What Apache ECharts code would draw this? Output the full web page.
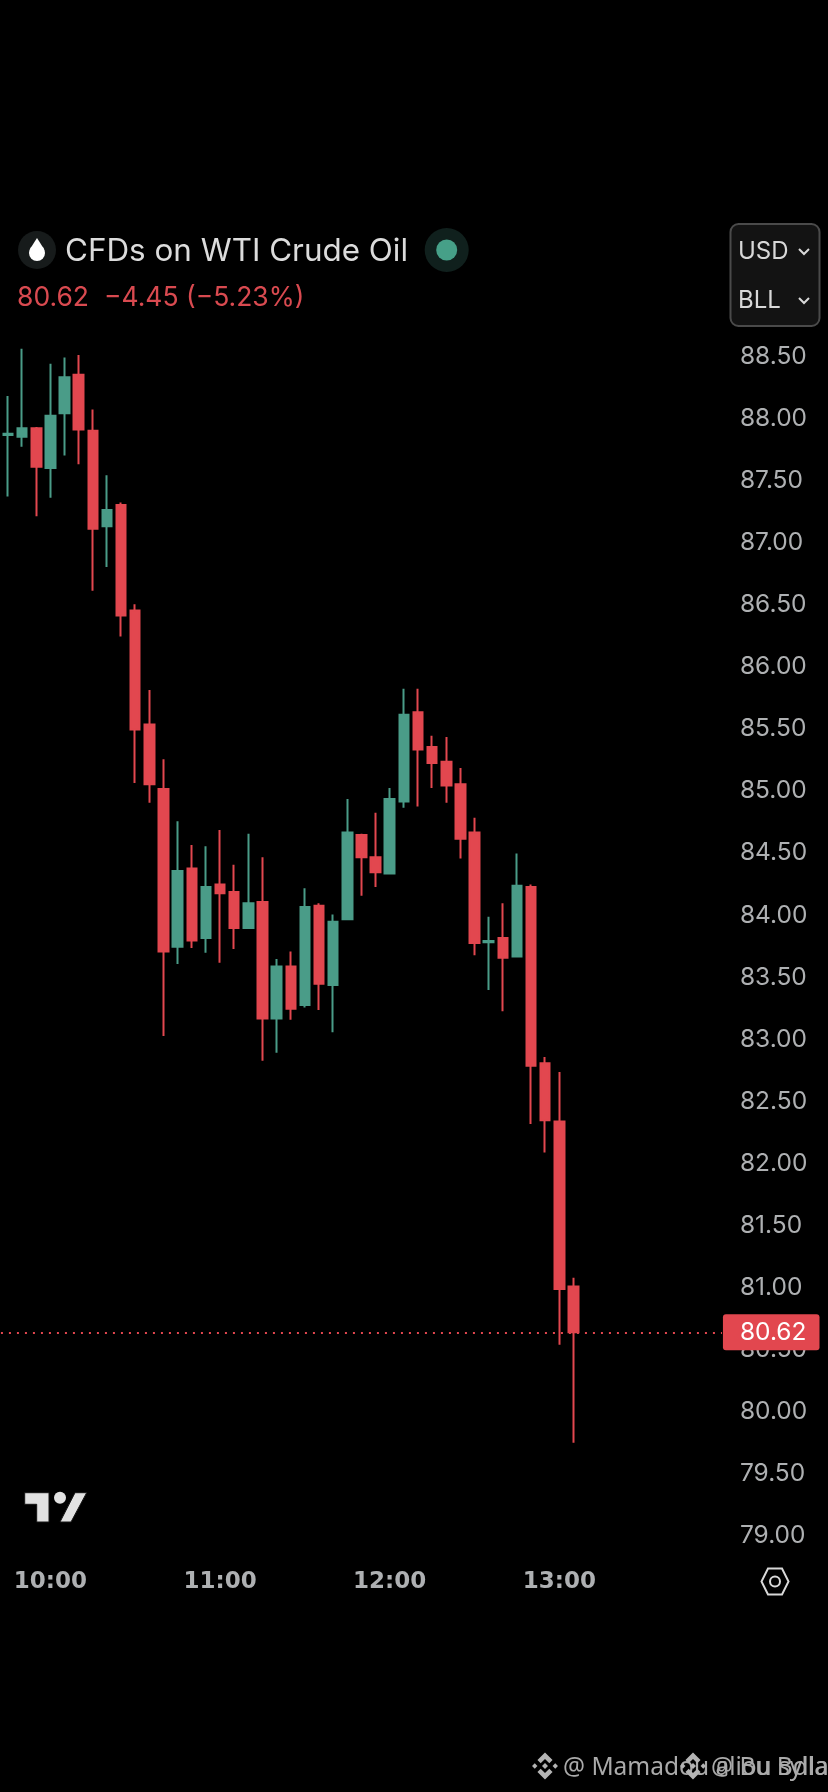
<!DOCTYPE html>
<html><head><meta charset="utf-8">
<style>html,body{margin:0;padding:0;background:#000}#c{width:828px;height:1792px}</style>
<script src="https://cdn.jsdelivr.net/npm/echarts@6/dist/echarts.min.js"></script>
</head><body><div id="c"></div>
<script>
const categories = ["09:45","09:50","09:55","10:00","10:05","10:10","10:15","10:20","10:25","10:30","10:35","10:40","10:45","10:50","10:55",
"11:00","11:05","11:10","11:15","11:20","11:25","11:30","11:35","11:40","11:45","11:50","11:55",
"12:00","12:05","12:10","12:15","12:20","12:25","12:30","12:35","12:40","12:45","12:50","12:55",
"13:00","13:05","13:10","13:15","13:20","13:25","13:30","13:35","13:40","13:45","13:50","13:55"];
const opens  = [87.855,87.84,87.91,87.59,88.03,88.34,87.89,87.12,87.29,86.44,85.52,85.00,83.73,84.36,83.80,84.23,84.17,83.88,84.09,83.15,83.57,83.26,84.06,83.42,83.95,84.63,84.45,84.32,84.90,85.62,85.34,85.22,85.04,84.65,83.765,83.80,83.65,84.21,82.79,82.32,80.99];
const closes = [87.866,87.91,87.60,88.01,88.32,87.90,87.10,87.25,86.40,85.48,85.04,83.69,84.34,83.78,84.21,84.16,83.88,84.08,83.15,83.57,83.23,84.05,83.43,83.93,84.65,84.45,84.33,84.92,85.60,85.32,85.21,85.03,84.60,83.76,83.775,83.64,84.22,82.77,82.33,80.97,80.62];
const lows   = [87.36,87.76,87.20,87.35,87.69,87.62,86.60,86.79,86.23,85.05,84.89,83.01,83.59,83.72,83.68,83.60,83.71,83.875,82.81,82.875,83.14,83.24,83.22,83.04,83.95,84.14,84.21,84.32,84.85,84.86,85.01,84.89,84.44,83.66,83.38,83.21,83.645,82.30,82.07,80.52,79.73];
const highs  = [88.17,88.55,87.92,88.43,88.48,88.50,88.06,87.53,87.31,86.49,85.80,85.24,84.74,84.55,84.54,84.67,84.39,84.64,84.45,83.63,83.69,84.20,84.08,83.99,84.92,84.64,84.81,85.01,85.81,85.81,85.43,85.42,85.17,84.77,83.97,84.08,84.48,84.23,82.84,82.72,81.06];
const lastPrice = 80.62;
const titleText = "CFDs on WTI Crude Oil";
const quoteText = "80.62  \u22124.45 (\u22125.23%)";
const watermarks = ["@ Mamadou aliou sylla","@ Bu Bdla"];

const RED="#e2474f", GREEN="#4a9c88", AXIS="#aeb0b2", FONT="Inter";
const candles = opens.map((o,i)=>[o,closes[i],lows[i],highs[i]]);
function diamond(cx,cy,s,fill){
  const P=(pts)=>({type:'polygon',shape:{points:pts.map(p=>[cx+p[0]*s,cy+p[1]*s])},style:{fill}});
  return [
    P([[0,-1],[.56,-.44],[.32,-.2],[0,-.52],[-.32,-.2],[-.56,-.44]]),
    P([[0,1],[.56,.44],[.32,.2],[0,.52],[-.32,.2],[-.56,.44]]),
    P([[-.76,-.2],[-.56,0],[-.76,.2],[-.96,0]]),
    P([[.76,-.2],[.96,0],[.76,.2],[.56,0]]),
    P([[0,-.22],[.22,0],[0,.22],[-.22,0]])
  ];
}
const chart = echarts.init(document.getElementById('c'),null,{renderer:'canvas'});
chart.setOption({
  backgroundColor:'#000',
  animation:false,
  grid:{left:0.94,width:721,top:293,height:1240.3,containLabel:false},
  xAxis:{type:'category',data:categories,boundaryGap:true,
    axisLine:{show:false},axisTick:{show:false},splitLine:{show:false},
    axisLabel:{interval:(i)=>(i-3)%12===0,color:AXIS,fontFamily:'DejaVu Sans',fontSize:23,fontWeight:'bold',margin:36,lineHeight:26,hideOverlap:false}},
  yAxis:{type:'value',position:'right',min:79,max:89,interval:0.5,
    axisLine:{show:false},axisTick:{show:false},splitLine:{show:false},
    axisLabel:{color:AXIS,fontFamily:FONT,fontSize:24.5,margin:18,showMinLabel:true,showMaxLabel:false,
      formatter:v=>'{s| }\n{a|'+v.toFixed(2)+'}',
      rich:{s:{fontSize:1,lineHeight:4,height:4},a:{color:AXIS,fontFamily:FONT,fontSize:24.5,lineHeight:28}}}},
  series:[{type:'candlestick',data:candles,barWidth:10,
    itemStyle:{color:GREEN,color0:RED,borderColor:GREEN,borderColor0:RED,borderWidth:2},
    markLine:{symbol:'none',silent:true,animation:false,
      data:[{yAxis:lastPrice}],
      lineStyle:{color:RED,type:[2,6],width:2,opacity:1},
      label:{show:true,position:'end',distance:1,formatter:()=>lastPrice.toFixed(2),color:'#fff',fontFamily:FONT,fontSize:24.5,
        backgroundColor:RED,padding:[8,13,3,17],borderRadius:3}}
  }],
  graphic:[
    {type:'circle',shape:{cx:37,cy:250,r:19},style:{fill:'#171b1b'}},
    {type:'circle',shape:{cx:37,cy:253,r:8},style:{fill:'#fff'}},
    {type:'polygon',shape:{points:[[37,238],[44,249],[30,249]]},style:{fill:'#fff'}},
    {type:'text',x:65,y:252,style:{text:titleText,fill:'#dcdcdc',fontFamily:FONT,fontSize:31.4,verticalAlign:'middle'}},
    {type:'circle',shape:{cx:446.7,cy:250,r:22},style:{fill:'#10201d'}},
    {type:'circle',shape:{cx:446.7,cy:250,r:10.5},style:{fill:'#46a088'}},
    {type:'text',x:17,y:298,style:{text:quoteText,fill:'#d94a50',fontFamily:FONT,fontSize:26.5,verticalAlign:'middle'}},
    {type:'rect',shape:{x:730.5,y:224,width:89,height:102,r:8},style:{fill:'#131313',stroke:'#4a4a4a',lineWidth:2}},
    {type:'text',x:738,y:252,style:{text:'USD',fill:'#d8d8d8',fontFamily:FONT,fontSize:24,verticalAlign:'middle'}},
    {type:'text',x:738,y:301,style:{text:'BLL',fill:'#d8d8d8',fontFamily:FONT,fontSize:24,verticalAlign:'middle'}},
    {type:'polyline',shape:{points:[[799,249],[804,254],[809,249]]},style:{stroke:'#d8d8d8',fill:null,lineWidth:2}},
    {type:'polyline',shape:{points:[[799,298],[804,303],[809,298]]},style:{stroke:'#d8d8d8',fill:null,lineWidth:2}},
    {type:'polygon',shape:{points:[[24.7,1492.7],[49,1492.7],[49,1522],[36.7,1522],[36.7,1504.3],[24.7,1504.3]]},style:{fill:'#e2e2e2',stroke:'#161616',lineWidth:1}},
    {type:'polygon',shape:{points:[[75,1492.7],[86.7,1492.7],[71,1522],[60,1522]]},style:{fill:'#e2e2e2',stroke:'#161616',lineWidth:1}},
    {type:'circle',shape:{cx:60,cy:1497.7,r:6},style:{fill:'#e2e2e2'}},
    {type:'polygon',shape:{points:[[768,1568.5],[782,1568.5],[788.5,1581.5],[782,1594.5],[768,1594.5],[761.5,1581.5]]},style:{fill:null,stroke:'#d8d8d8',lineWidth:2}},
    {type:'circle',shape:{cx:775,cy:1581.5,r:5},style:{fill:null,stroke:'#d8d8d8',lineWidth:2}},
    ...diamond(545,1766,13.5,'#b4b4b4'),
    {type:'text',x:563,y:1768,style:{text:watermarks[0],fill:'#aaaaaa',fontFamily:'Noto Sans',fontSize:24.5,verticalAlign:'middle'}},
    ...diamond(693,1766,13.5,'#b4b4b4'),
    {type:'text',x:711,y:1768,style:{text:watermarks[1],fill:'#aaaaaa',fontFamily:'Noto Sans',fontSize:24.5,verticalAlign:'middle'}}
  ]
});
</script></body></html>
